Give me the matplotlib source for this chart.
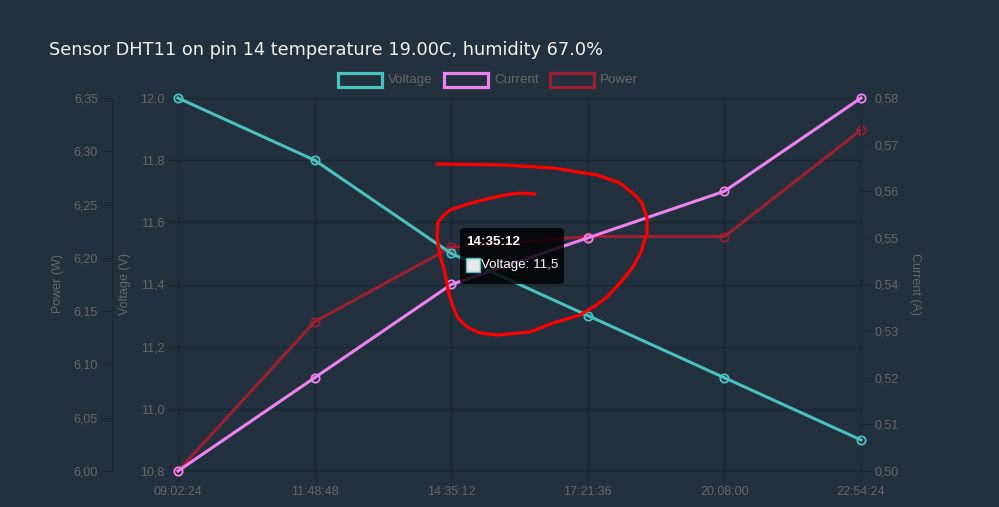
import matplotlib
matplotlib.use("Agg")
import matplotlib.pyplot as plt
from matplotlib.patches import FancyBboxPatch, Rectangle
from matplotlib.lines import Line2D
from matplotlib.ticker import FixedLocator, FuncFormatter

times = ["09:02:24", "11:48:48", "14:35:12", "17:21:36", "20:08:00", "22:54:24"]
voltage = [12.0, 11.8, 11.5, 11.3, 11.1, 10.9]
current = [0.50, 0.52, 0.54, 0.55, 0.56, 0.58]
power = [6.00, 6.14, 6.21, 6.22, 6.22, 6.32]
title = "Sensor DHT11 on pin 14 temperature 19.00C, humidity 67.0%"
series_names = ["Voltage", "Current", "Power"]
volt_ticks = [10.8, 11.0, 11.2, 11.4, 11.6, 11.8, 12.0]
power_ticks = [6.00, 6.05, 6.10, 6.15, 6.20, 6.25, 6.30, 6.35]
current_ticks = [0.50, 0.51, 0.52, 0.53, 0.54, 0.55, 0.56, 0.57, 0.58]

BG = "#22313d"
GRID = "#1a2731"
TICK = "#686868"
C_V = "#4bc0c0"
C_I = "#ee82ee"
C_P = "#9e1f33"
W, H = 999, 507
FONT = ["Liberation Sans", "DejaVu Sans"]

fig = plt.figure(figsize=(W / 100, H / 100), dpi=100, facecolor=BG)

def fx(px):
    return px / W

def fy(py):
    return 1 - py / H

L, R, T, B = 178, 861, 98, 471
ax = fig.add_axes([fx(L), fy(B), fx(R) - fx(L), fy(T) - fy(B)])
ax.set_facecolor(BG)
x = list(range(len(times)))
ax.set_xlim(0, len(times) - 1)
ax.set_ylim(10.8, 12.0)
for s in ax.spines.values():
    s.set_visible(False)
ax.spines["left"].set_visible(True)
ax.spines["left"].set_color(GRID)
ax.spines["bottom"].set_visible(True)
ax.spines["bottom"].set_color(GRID)
ax.yaxis.set_major_locator(FixedLocator(volt_ticks))
ax.yaxis.set_major_formatter(FuncFormatter(lambda v, p: f"{v:.1f}".replace(".", ",")))
ax.set_xticks(x)
ax.set_xticklabels(times)
ax.tick_params(axis="both", colors=GRID, labelcolor=TICK, labelsize=9, length=7, width=1)
ax.tick_params(axis="x", pad=4)
ax.tick_params(axis="y", pad=3)
for lab in ax.get_xticklabels() + ax.get_yticklabels():
    lab.set_family(FONT)
ax.grid(True, color=GRID, linewidth=1)
ax.set_axisbelow(True)

# Power axis (far left)
axp = ax.twinx()
axp.set_ylim(6.00, 6.35)
for s in axp.spines.values():
    s.set_visible(False)
axp.spines["left"].set_visible(True)
axp.spines["left"].set_position(("outward", (L - 112) * 0.72))
axp.spines["left"].set_color(GRID)
axp.yaxis.set_ticks_position("left")
axp.yaxis.set_label_position("left")
axp.yaxis.set_major_locator(FixedLocator(power_ticks))
axp.yaxis.set_major_formatter(FuncFormatter(lambda v, p: f"{v:.2f}".replace(".", ",")))
axp.tick_params(axis="y", colors=GRID, labelcolor=TICK, labelsize=9, length=7, pad=3)
for lab in axp.get_yticklabels():
    lab.set_family(FONT)

# Current axis (right)
axi = ax.twinx()
axi.set_ylim(0.50, 0.58)
for s in axi.spines.values():
    s.set_visible(False)
axi.spines["right"].set_visible(True)
axi.spines["right"].set_color(GRID)
axi.yaxis.set_major_locator(FixedLocator(current_ticks))
axi.yaxis.set_major_formatter(FuncFormatter(lambda v, p: f"{v:.2f}".replace(".", ",")))
axi.tick_params(axis="y", colors=GRID, labelcolor=TICK, labelsize=9, length=7, pad=3)
for lab in axi.get_yticklabels():
    lab.set_family(FONT)

mk = dict(marker="o", markersize=6, markerfacecolor="none", markeredgewidth=1.3, linewidth=2.2, clip_on=False)
axp.plot(x, power, color=C_P, **mk, zorder=3)
axi.plot(x, current, color=C_I, **mk, zorder=3)
axv = ax.twinx()
axv.set_ylim(10.8, 12.0)
axv.axis("off")
axv.plot(x, voltage, color=C_V, **mk, zorder=3)
axv.set_xlim(0, len(times) - 1)
for a in (axp, axi):
    a.set_xlim(0, len(times) - 1)

# axis titles
fig.text(fx(58), fy(284), "Power (W)", rotation=90, color=TICK, fontsize=9, family=FONT, ha="center", va="center")
fig.text(fx(125), fy(284), "Voltage (V)", rotation=90, color=TICK, fontsize=9, family=FONT, ha="center", va="center")
fig.text(fx(915), fy(284), "Current (A)", rotation=-90, color=TICK, fontsize=9, family=FONT, ha="center", va="center")

# title
fig.text(fx(49), fy(50), title, color="#f0f0f0", fontsize=12.8, family=["DejaVu Sans"], ha="left", va="center")

# legend
legend_x = [336, 442, 548]
colors = [C_V, C_I, C_P]
for lx, name, c in zip(legend_x, series_names, colors):
    fig.patches.append(Rectangle((fx(lx + 1.5), fy(86.5)), fx(44), fy(73.5) - fy(86.5), transform=fig.transFigure,
                                 facecolor=BG, edgecolor=c, linewidth=2.3))
    fig.text(fx(lx + 52), fy(80), name, color=TICK, fontsize=9.6, family=FONT, ha="left", va="center")

# tooltip
fig.patches.append(FancyBboxPatch((fx(460), fy(284)), fx(104), fy(228) - fy(284), transform=fig.transFigure,
                                  boxstyle="round,pad=0,rounding_size=0.006", facecolor="black", alpha=0.82,
                                  edgecolor="none", zorder=10))
fig.text(fx(466), fy(242), times[2], color="white", fontsize=9.6, fontweight="bold", family=FONT,
         ha="left", va="center", zorder=11)
fig.patches.append(Rectangle((fx(466), fy(272)), fx(13.5), fy(258) - fy(272), transform=fig.transFigure,
                             facecolor="#e6e6e6", edgecolor=C_V, linewidth=1, zorder=11))
fig.text(fx(481), fy(265), f"{series_names[0]}: {str(voltage[2]).replace('.', ',')}", color="white",
         fontsize=9.6, family=FONT, ha="left", va="center", zorder=11)

# red freehand circle annotation
scrib = [(437, 164), (503, 165), (553, 168), (597, 175), (620, 183), (635, 195), (642, 203), (647, 218),
         (647, 233), (641, 252), (633, 267), (620, 283), (607, 297), (595, 306), (580, 315), (553, 323),
         (530, 332), (497, 335), (480, 333), (467, 327), (458, 318), (453, 307), (448, 290), (445, 273),
         (440, 255), (437, 237), (438, 222), (444, 215), (450, 210), (468, 204), (487, 199), (505, 195),
         (520, 193), (535, 194)]
fig.add_artist(Line2D([fx(p[0]) for p in scrib], [fy(p[1]) for p in scrib], transform=fig.transFigure,
                      color="#ff0000", linewidth=2.3, solid_capstyle="round", solid_joinstyle="round", zorder=12))

fig.savefig("out.png", dpi=100, facecolor=BG)
